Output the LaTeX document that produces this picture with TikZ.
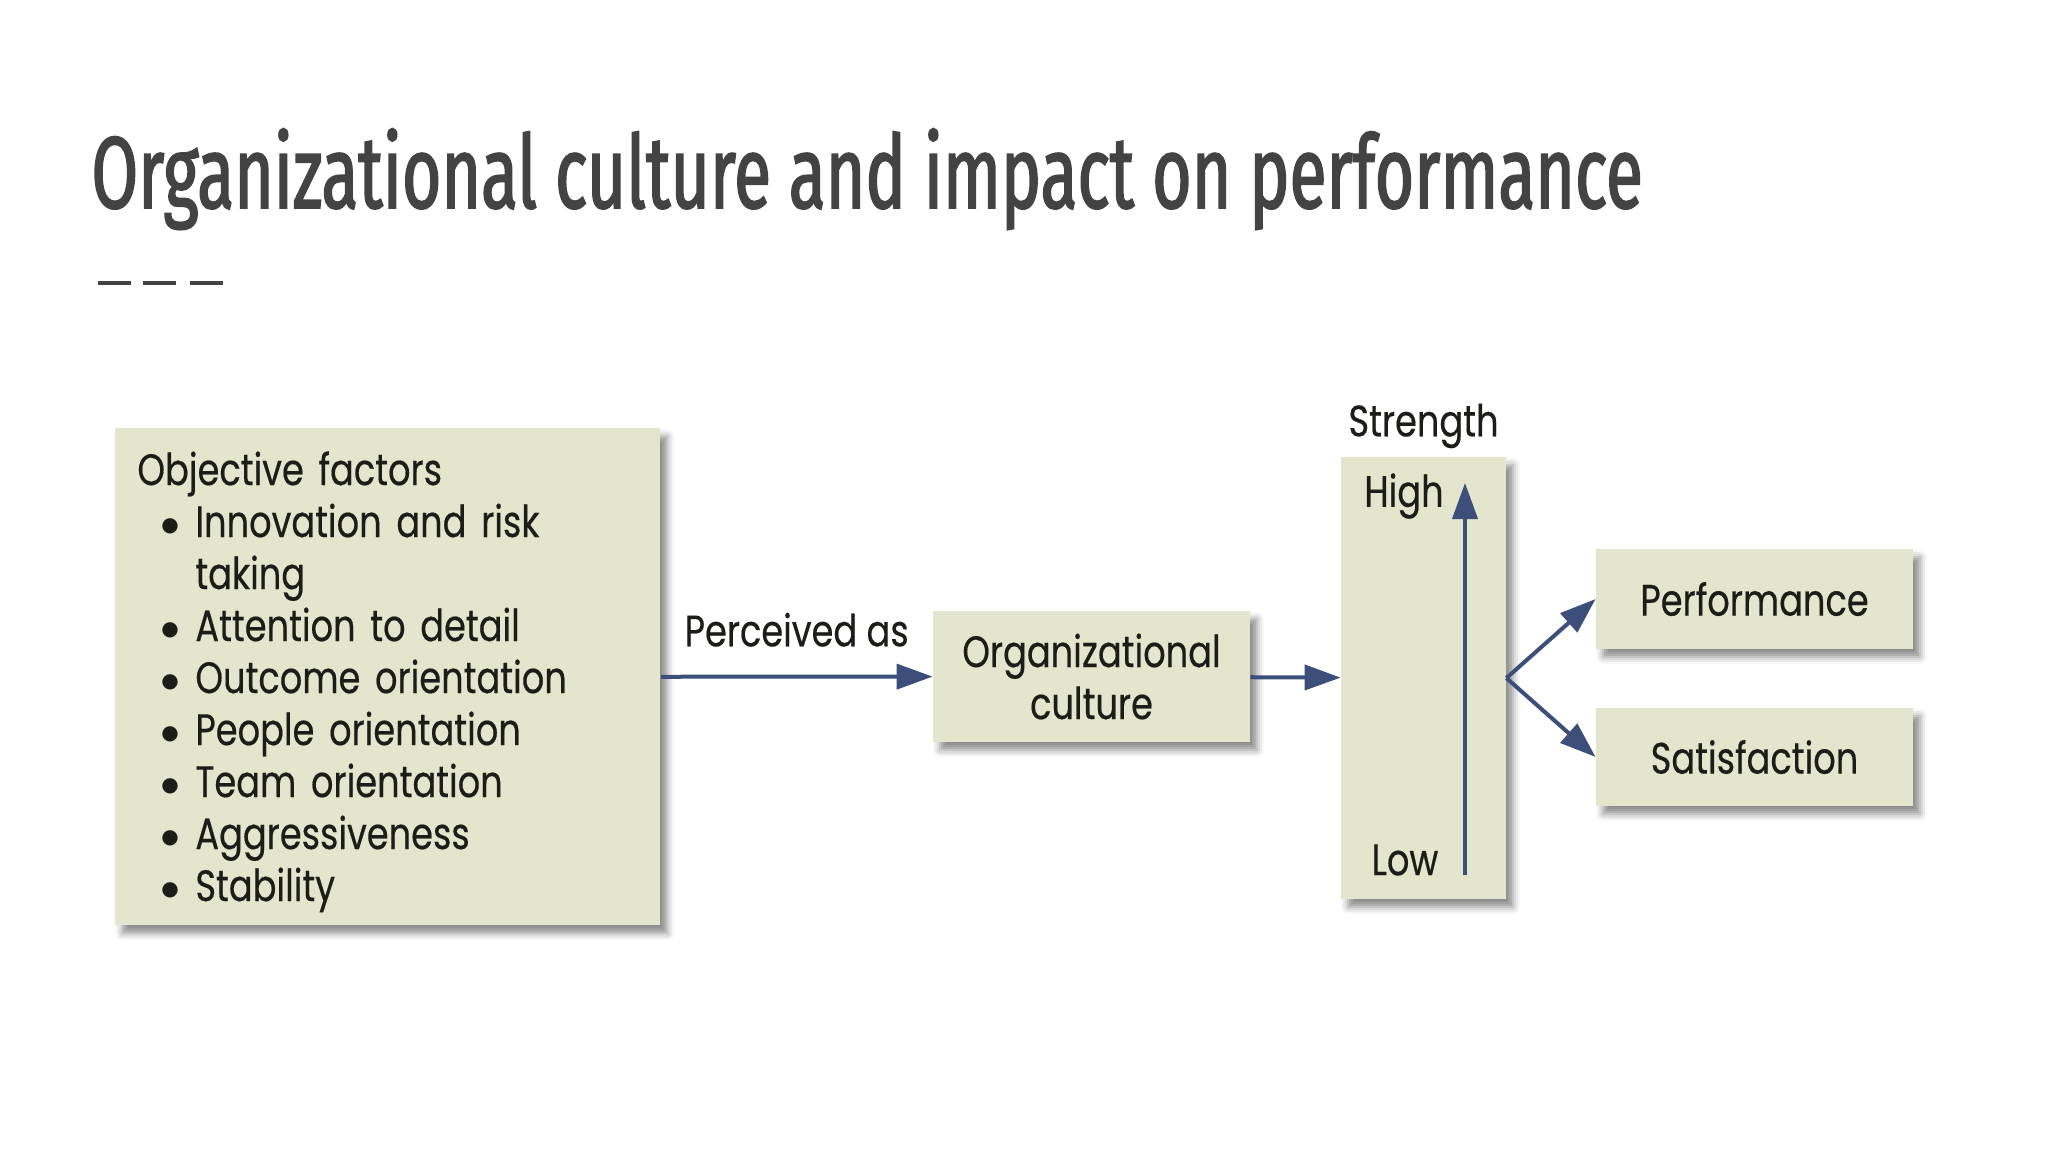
\documentclass[tikz,border=0pt]{standalone}
\usepackage{fontspec}
\setmainfont{Poppins}[FakeStretch=0.8, FakeBold=0.4]
\newfontfamily\titlefont{Fira Sans}[FakeStretch=0.664, FakeBold=1.6]
\newfontfamily\bulletfont{DejaVu Sans}
\usetikzlibrary{positioning,arrows.meta,shadows.blur}

\definecolor{boxfill}{RGB}{227,230,204}
\definecolor{arrowblue}{RGB}{60,78,122}
\definecolor{titlegray}{RGB}{67,67,67}
\definecolor{inkblack}{RGB}{28,28,24}

\newcommand\factoritem[1]{\makebox[29pt][l]{\hspace{12pt}%
  \raisebox{3pt}{\bulletfont\fontsize{10}{10}\selectfont ●}}#1}

\tikzset{
  factorbox/.style={fill=boxfill, inner sep=0pt, text=inkblack,
    blur shadow={shadow xshift=3.5pt, shadow yshift=-4pt,
      shadow blur radius=3.5pt, shadow opacity=45}},
  flow/.style={draw=arrowblue, line width=2pt,
    -{Triangle[length=18pt,width=12.5pt]}},
  tag/.style={inner sep=0pt, text=inkblack},
}

\begin{document}
\begin{tikzpicture}[x=0.5pt, y=-0.5pt, font=\fontsize{22}{26}\selectfont]
  \useasboundingbox (0,0) rectangle (2048,1152);

  % Title
  \node[anchor=base west, inner sep=0pt, text=titlegray,
    font=\titlefont\fontsize{51}{60}\selectfont] (title) at (91,208)
    {Organizational culture and impact on performance};
  \foreach \x in {98,143,190}
    \draw[titlegray, line width=2pt] (\x,283) -- ++(33,0);

  % Boxes
  \node[factorbox, anchor=north west, minimum width=272.5pt,
    minimum height=248.5pt, text width=250.5pt, inner xsep=11pt,
    align=left] (factors) at (115,428)
    {Objective factors\\
     \factoritem{Innovation and risk}\\
     \hspace*{29pt}taking\\
     \factoritem{Attention to detail}\\
     \factoritem{Outcome orientation}\\
     \factoritem{People orientation}\\
     \factoritem{Team orientation}\\
     \factoritem{Aggressiveness}\\
     \factoritem{Stability}\par\vspace{-5pt}};
  \node[factorbox, minimum width=158.5pt, minimum height=65.5pt,
    align=center] (culture) at (1091.5,676.5) {Organizational\\culture};
  \node[factorbox, minimum width=82.5pt, minimum height=221pt]
    (strength) at (1423.5,678) {};
  \node[factorbox, minimum width=158.5pt, minimum height=50pt]
    (perf) at (1754.5,599) {Performance};
  \node[factorbox, minimum width=158.5pt, minimum height=49pt]
    (satis) at (1754.5,757) {Satisfaction};

  % Labels
  \node[tag, above=4pt of strength] (strengthlbl) {Strength};
  \node[tag] (high) at (1404,496) {High};
  \node[tag] (low) at (1405,860) {Low};
  \coordinate (lowend) at (1465,875);
  \coordinate (highend) at (1465,483);

  % Arrows
  \draw[flow] (factors) -- node[tag, midway, above=14pt] (perceived)
    {Perceived as} (culture);
  \draw[flow] (culture) -- (strength);
  \draw[flow] (lowend) -- (highend);
  \draw[flow] (strength.east) -- (perf.west);
  \draw[flow] (strength.east) -- (satis.west);
\end{tikzpicture}
\end{document}
